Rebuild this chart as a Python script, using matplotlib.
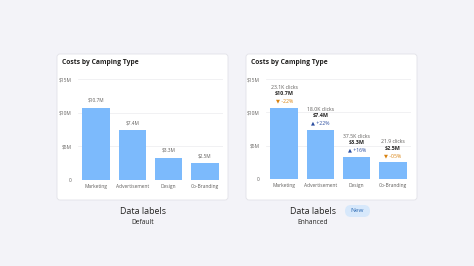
import matplotlib
matplotlib.use("Agg")
import matplotlib.pyplot as plt
from matplotlib.patches import FancyBboxPatch

plt.rcParams['font.family'] = ['Open Sans', 'DejaVu Sans']

# ---- data ----
categories = ["Marketing", "Advertisement", "Design", "Co-Branding"]
costs = [10.7, 7.4, 3.3, 2.5]            # $M
cost_labels = ["$10.7M", "$7.4M", "$3.3M", "$2.5M"]
clicks_labels = ["23.1K clicks", "18.0K clicks", "37.5K clicks", "21.9 clicks"]
delta_labels = ["▼ -22%", "▲ +22%", "▲ +16%", "▼ -05%"]
delta_up = [False, True, True, False]
yticks = [0, 5, 10, 15]
ytick_labels = ["0", "$5M", "$10M", "$15M"]
title = "Costs by Camping Type"

W, H = 474, 266
BG = "#f3f3f8"
BAR = "#7cbafc"
DARK = "#252423"
GRAY = "#605e5c"
ORANGE = "#d9820f"
BLUE = "#2a4c9e"

fig = plt.figure(figsize=(W / 100, H / 100), dpi=100)
fig.patch.set_facecolor(BG)

# background axes in pixel coordinates
bg = fig.add_axes([0, 0, 1, 1])
bg.set_xlim(0, W)
bg.set_ylim(H, 0)
bg.axis("off")

for (x0, x1) in [(57, 228), (246, 417)]:
    bg.add_patch(FancyBboxPatch((x0, 54), x1 - x0, 146,
                                boxstyle="round,pad=0,rounding_size=3",
                                facecolor="white", edgecolor="#e2e2e8", linewidth=0.6))
    bg.text(x0 + 5, 62, title, fontsize=4.9, fontweight="bold", color=DARK,
            ha="left", va="center")

# bottom captions
bg.text(143, 211, "Data labels", fontsize=6.4, color=DARK, ha="center", va="center")
bg.text(143, 222, "Default", fontsize=4.8, color=DARK, ha="center", va="center")
bg.text(313, 211, "Data labels", fontsize=6.4, color=DARK, ha="center", va="center")
bg.text(313, 222, "Enhanced", fontsize=4.8, color=DARK, ha="center", va="center")
bg.add_patch(FancyBboxPatch((345, 205), 25, 12,
                            boxstyle="round,pad=0,rounding_size=6",
                            facecolor="#d7e8fb", edgecolor="none"))
bg.text(357.5, 211, "New", fontsize=4.6, color="#2f6cb5", ha="center", va="center")


def make_axes(px_left, px_right, py_zero, py_top):
    ax = fig.add_axes([px_left / W, 1 - py_zero / H,
                       (px_right - px_left) / W, (py_zero - py_top) / H])
    ax.set_facecolor("none")
    x = list(range(len(categories)))
    ax.bar(x, costs, width=0.76, color=BAR, zorder=2)
    ax.set_xlim(-0.5, len(categories) - 0.5)
    ax.set_ylim(0, 15)
    ax.set_yticks(yticks)
    ax.set_yticklabels(ytick_labels)
    ax.set_xticks(x)
    ax.set_xticklabels(categories)
    ax.tick_params(axis="both", length=0, labelsize=3.5, labelcolor=GRAY)
    ax.tick_params(axis="y", pad=4.5)
    ax.tick_params(axis="x", pad=3)
    for s in ax.spines.values():
        s.set_visible(False)
    ax.grid(axis="y", color="#ececee", linewidth=0.5, zorder=0)
    ax.set_axisbelow(True)
    return ax, x


# left chart: default labels
axL, xs = make_axes(78, 223, 180, 79)
for xi, v, lab in zip(xs, costs, cost_labels):
    axL.annotate(lab, (xi, v), xytext=(0, 5.5), textcoords="offset points",
                 ha="center", va="center", fontsize=3.4, color=GRAY)

# right chart: enhanced labels
axR, xs = make_axes(266, 411, 179, 79)
for xi, v, c, lab, d, up in zip(xs, costs, clicks_labels, cost_labels,
                                delta_labels, delta_up):
    axR.annotate(d, (xi, v), xytext=(0, 4.8), textcoords="offset points",
                 ha="center", va="center", fontsize=3.7,
                 color=BLUE if up else ORANGE)
    axR.annotate(lab, (xi, v), xytext=(0, 10.2), textcoords="offset points",
                 ha="center", va="center", fontsize=3.9, fontweight="bold",
                 color=DARK)
    axR.annotate(c, (xi, v), xytext=(0, 14.8), textcoords="offset points",
                 ha="center", va="center", fontsize=3.7, color=GRAY)

fig.savefig("out.png", dpi=100, facecolor=BG)
